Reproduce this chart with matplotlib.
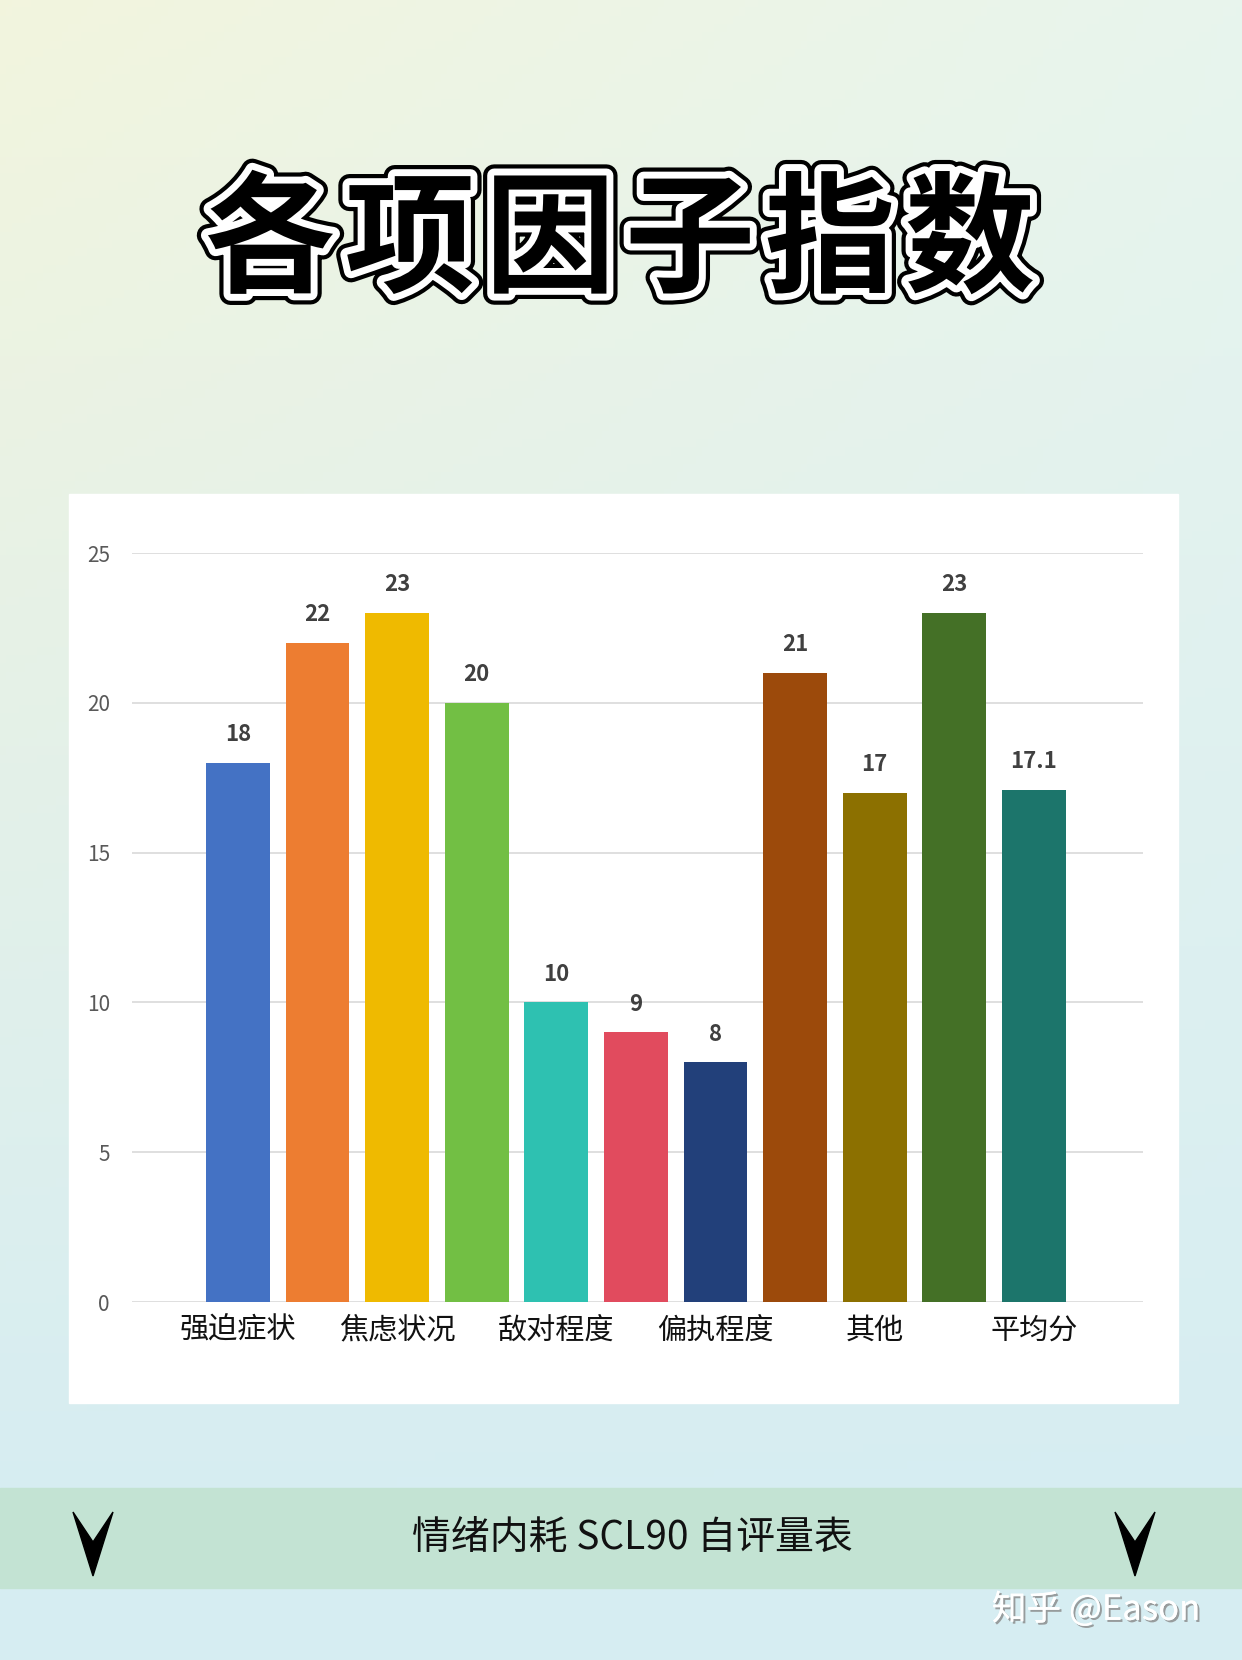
import matplotlib.pyplot as plt
import matplotlib.patheffects as pe
import numpy as np
from matplotlib.patches import Polygon

plt.rcParams["font.family"] = ["Noto Sans CJK SC", "DejaVu Sans"]

# 数据
categories = ["强迫症状", "", "焦虑状况", "", "敌对程度", "", "偏执程度", "", "其他", "", "平均分"]
values = [18, 22, 23, 20, 10, 9, 8, 21, 17, 23, 17.1]
value_labels = ["18", "22", "23", "20", "10", "9", "8", "21", "17", "23", "17.1"]
bar_colors = ["#4472C4", "#ED7D31", "#EFBA00", "#72BF44", "#2EC1B1", "#E14B5E",
              "#22407A", "#9C4A0B", "#8C7000", "#447026", "#1C756B"]
y_ticks = [0, 5, 10, 15, 20, 25]
title = "各项因子指数"

W, H = 1242, 1660
fig = plt.figure(figsize=(W / 100, H / 100), dpi=100)

# 背景渐变
bg = fig.add_axes([0, 0, 1, 1])
yy, xx = np.mgrid[0:1:200j, 0:1:200j]
top_left = np.array([0.95, 0.96, 0.87])
top_right = np.array([0.91, 0.96, 0.93])
bottom = np.array([0.84, 0.93, 0.95])
t = np.clip(yy * 1.1, 0, 1)[..., None]
top = top_left + (top_right - top_left) * xx[..., None]
img = top * (1 - t) + bottom * t
bg.imshow(img, extent=[0, W, H, 0], origin="upper", aspect="auto")
bg.set_xlim(0, W)
bg.set_ylim(H, 0)
bg.axis("off")

# 白色面板
bg.add_patch(plt.Rectangle((69, 494), 1109, 909, color="white", zorder=2))

# 标题（逐字排开）
outline = [pe.Stroke(linewidth=16, foreground="black"),
           pe.Stroke(linewidth=10, foreground="white"),
           pe.Normal()]
for i, ch in enumerate(title):
    bg.text(270 + i * 140, 244, ch, fontsize=94, fontweight="heavy", ha="center",
            va="center", color="black", zorder=5, path_effects=outline)

# 底部横幅
bg.add_patch(plt.Rectangle((0, 1488), W, 100, color="#C3E3D3", zorder=2))
bg.text(632, 1538, "情绪内耗 SCL90 自评量表", fontsize=28, ha="center", va="center",
        color="#111111", zorder=5)
for cx in [93, 1135]:
    bg.add_patch(Polygon([[cx - 20, 1512], [cx, 1542], [cx + 20, 1512], [cx, 1576]],
                         closed=True, color="black", zorder=5))

# 水印
bg.text(1096, 1610, "知乎 @Eason", fontsize=25, ha="center", va="center", color="white",
        zorder=5, path_effects=[pe.withSimplePatchShadow(offset=(1.5, -1.5), shadow_rgbFace="#888888", alpha=0.8),
                                pe.Normal()])

# 柱状图
left, right = 132 / W, 1143 / W
ax_bottom, ax_top = 1 - 1302 / H, 1 - 553 / H
ax = fig.add_axes([left, ax_bottom, right - left, ax_top - ax_bottom])
ax.patch.set_alpha(0)
x = np.arange(len(values))
ax.bar(x, values, width=0.8, color=bar_colors, zorder=3)
for xi, v, lab in zip(x, values, value_labels):
    ax.annotate(lab, (xi, v), xytext=(0, 12), textcoords="offset points", ha="center",
                va="bottom", fontsize=16, fontweight="bold", color="#404040")
ax.set_xlim(-1.33, len(values) - 1 + 1.37)
ax.set_ylim(0, 25)
ax.set_yticks(y_ticks)
ax.set_yticklabels([str(v) for v in y_ticks], fontsize=15, color="#595959")
ax.set_xticks(x)
ax.set_xticklabels(categories, fontsize=21, color="#111111")
ax.tick_params(axis="both", length=0)
ax.tick_params(axis="y", pad=16)
ax.tick_params(axis="x", pad=10)
ax.grid(axis="y", color="#D9D9D9", linewidth=1.2, zorder=0)
for s in ax.spines.values():
    s.set_visible(False)

fig.savefig("out.png", dpi=100)
